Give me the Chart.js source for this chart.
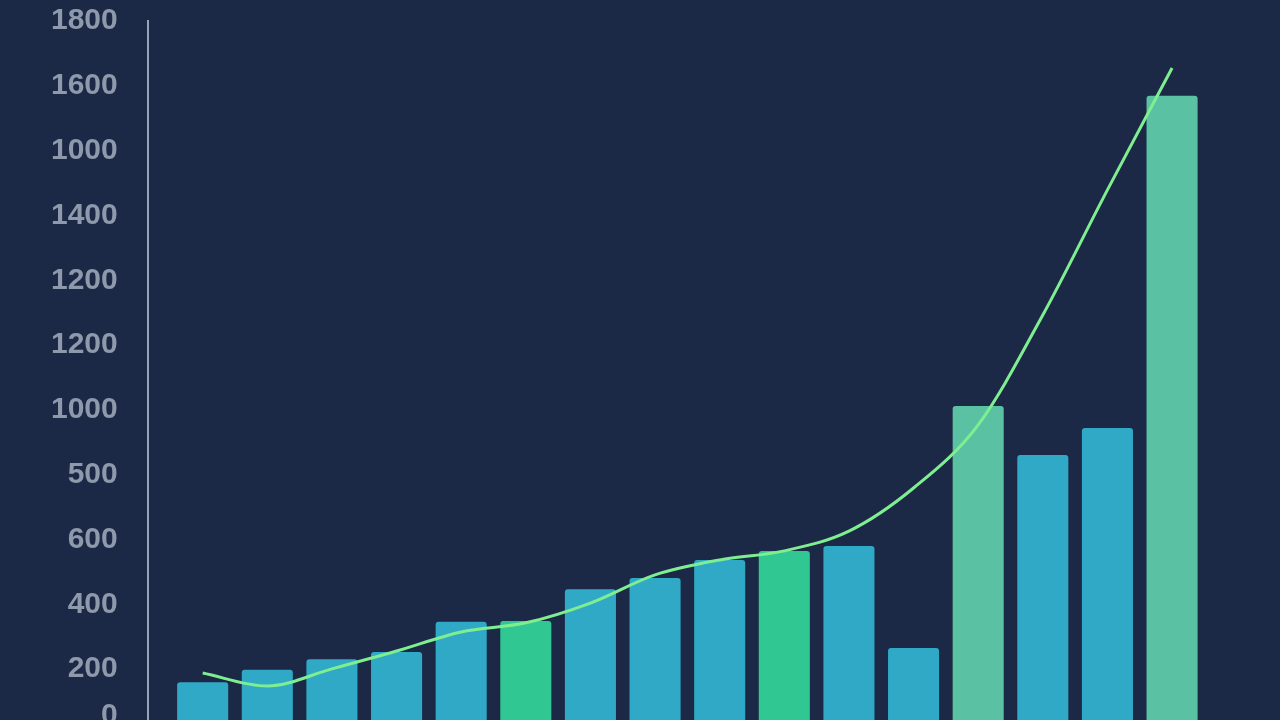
<!DOCTYPE html>
<html>
<head>
<meta charset="utf-8">
<script src="https://cdn.jsdelivr.net/npm/chart.js@4/dist/chart.umd.min.js"></script>
<style>
  html, body { margin: 0; padding: 0; background: #1c2946; overflow: hidden; }
  canvas { display: block; }
</style>
</head>
<body>
<canvas id="grafico" width="1280" height="740"></canvas>
<script>
// 16 unlabelled columns
const categories = [1, 2, 3, 4, 5, 6, 7, 8, 9, 10, 11, 12, 13, 14, 15, 16]
const barValues = [160, 198, 231, 253, 346, 349, 447, 481, 537, 565, 580, 265, 1012, 861, 944, 1969]
const lineValues = [188, 148, 201, 256, 315, 343, 404, 491, 537, 565, 626, 759, 954, 1293, 1679, 2055]
// tick labels exactly as printed on the picture (bottom to top)
const yLabels = ['0', '200', '400', '600', '500', '1000', '1200', '1200', '1400', '1000', '1600', '1800']

const blue = '#2fa9c6'
const green = '#31c792'
const teal = '#5ac2a2'
const barColors = [blue, blue, blue, blue, blue, green, blue, blue, blue, green, blue, blue, teal, blue, blue, teal]

const ctx = document.getElementById('grafico').getContext('2d')

// no extra room for the first/last tick labels
const noPad = (scale) => {
  scale.paddingTop = 0
  scale.paddingBottom = 0
  scale.paddingLeft = 0
  scale.paddingRight = 0
}

new Chart(ctx, {
  data: {
    datasets: [{
      type: 'line',
      data: categories.map((c, i) => ({ x: i, y: lineValues[i] })),
      borderColor: '#7eee90',
      borderWidth: 3,
      pointRadius: 0,
      tension: 0.4,
      cubicInterpolationMode: 'monotone',
      order: 0
    }, {
      type: 'bar',
      data: categories.map((c, i) => ({ x: i, y: barValues[i] })),
      backgroundColor: barColors,
      borderRadius: 3,
      borderSkipped: 'bottom',
      barPercentage: 0.79,
      categoryPercentage: 1,
      order: 1
    }]
  },
  options: {
    responsive: false,
    animation: false,
    layout: { padding: { top: 21, bottom: 6, left: 21, right: 0 } },
    plugins: { legend: { display: false }, tooltip: { enabled: false } },
    scales: {
      x: {
        type: 'linear',
        display: false,
        offset: false,
        min: -0.85,
        max: 16.67,
        ticks: { display: false },
        // one tick per column so the bar width follows the column spacing
        afterBuildTicks: (s) => { s.ticks = categories.map((c, i) => ({ value: i })) },
        afterFit: noPad
      },
      y: {
        min: 0,
        max: 2200,
        grid: { display: false, drawTicks: false },
        border: { display: true, color: '#98a3b6', width: 2 },
        afterFit: noPad,
        ticks: {
          stepSize: 200,
          autoSkip: false,
          padding: 30,
          color: '#8e99ab',
          font: { family: 'Liberation Sans', size: 30, weight: 'bold' },
          callback: (v, i) => {
            const t = yLabels[i]
            // the bottom label sits a bit higher than the others
            return i === 0 ? [t, ''] : t
          }
        }
      }
    }
  }
})
</script>
</body>
</html>
